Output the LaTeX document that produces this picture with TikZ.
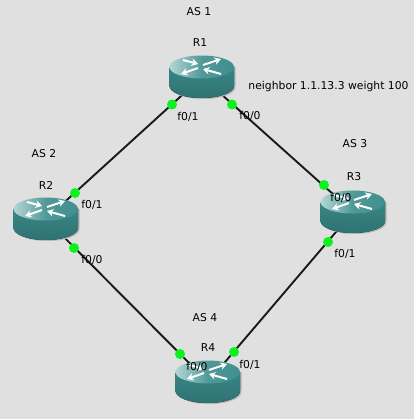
\documentclass[tikz,border=0pt]{standalone}
\usepackage{fontspec}
\setmainfont{DejaVu Sans}
\usetikzlibrary{arrows.meta,backgrounds}
\definecolor{canvasgray}{HTML}{E0E0E0}
\definecolor{routertop}{HTML}{3F8E8E}
\definecolor{routerlight}{HTML}{B4D6D6}
\definecolor{routerside}{HTML}{3A8585}
\definecolor{routerdark}{HTML}{2F7373}
\definecolor{portgreen}{HTML}{0CF221}
\tikzset{
  routerspot/.style={minimum width=65pt,minimum height=43pt,inner sep=0pt},
  portdot/.style={circle,fill=portgreen,minimum size=10pt,inner sep=0pt},
  linkline/.style={line width=1.9pt,black!90},
  txt/.style={font=\fontsize{10.8}{12}\selectfont,inner sep=0pt,text=black},
  flow/.style={white,line width=2pt,-{Stealth[length=6.5pt,width=7.5pt]}},
  pics/router/.style={code={
    % shadow, body, lid, then the four arrows
    \fill[black!28] (-30,-10) -- (33.5,-10) -- (33.5,10) .. controls (33.5,17) and (19,22) .. (1.25,22) .. controls (-17,22) and (-30,17) .. (-30,10) -- cycle;
    \fill[top color=routerside,bottom color=routerdark] (-32.5,-10) -- (32,-10) -- (32,9) .. controls (32,15.6) and (18,21) .. (-0.25,21) .. controls (-18,21) and (-32.5,15.6) .. (-32.5,9) -- cycle;
    \path[left color=routerlight,right color=routertop,middle color=routertop!85!routerlight] (-0.25,-10) ellipse[x radius=32.25,y radius=11.5];
    \draw[flow] (-19,-17) -- (-4,-13);
    \draw[flow] (-4,-9) -- (-21,-3);
    \draw[flow] (1,-12) -- (19,-18);
    \draw[flow] (19,-3) -- (1,-8);
  }}
}
\begin{document}
\begin{tikzpicture}[x=1pt,y=-1pt]
  \useasboundingbox[fill=canvasgray] (0,0) rectangle (414,419);
  \node[routerspot] (r1) at (202,77) {};
  \node[routerspot] (r2) at (46,219) {};
  \node[routerspot] (r3) at (353,212) {};
  \node[routerspot] (r4) at (208,382) {};
  \draw[linkline] (r1.center) -- (r2.center);
  \draw[linkline] (r1.center) -- (r3.center);
  \draw[linkline] (r2.center) -- (r4.center);
  \draw[linkline] (r3.center) -- (r4.center);
  \foreach \rname in {r1,r2,r3,r4}
    \pic at (\rname) {router};
  % ports
  \node[portdot] (p1a) at (172,104.5) {};
  \node[portdot] (p1b) at (232,104.5) {};
  \node[portdot] (p2a) at (75,193) {};
  \node[portdot] (p2b) at (74,248) {};
  \node[portdot] (p3a) at (324,185) {};
  \node[portdot] (p3b) at (328,242) {};
  \node[portdot] (p4a) at (180,354) {};
  \node[portdot] (p4b) at (234,352) {};
  % labels
  \node[txt] (as1) at (199,12) {AS 1};
  \node[txt] (as2) at (44,154) {AS 2};
  \node[txt] (as3) at (355,144) {AS 3};
  \node[txt] (as4) at (205,318) {AS 4};
  \node[txt] (n1) at (200,43) {R1};
  \node[txt] (n2) at (46,185) {R2};
  \node[txt] (n3) at (354,177) {R3};
  \node[txt] (n4) at (208,348) {R4};
  \node[txt] (l1a) at (188,117) {f0/1};
  \node[txt] (l1b) at (250,116) {f0/0};
  \node[txt] (l2a) at (92,205) {f0/1};
  \node[txt] (l2b) at (92,260) {f0/0};
  \node[txt] (l3a) at (341,198) {f0/0};
  \node[txt] (l3b) at (345,254) {f0/1};
  \node[txt] (l4a) at (197,367) {f0/0};
  \node[txt] (l4b) at (250,365) {f0/1};
  \node[txt] (nb) at (328.5,87) {neighbor 1.1.13.3 weight 100};
\end{tikzpicture}
\end{document}
